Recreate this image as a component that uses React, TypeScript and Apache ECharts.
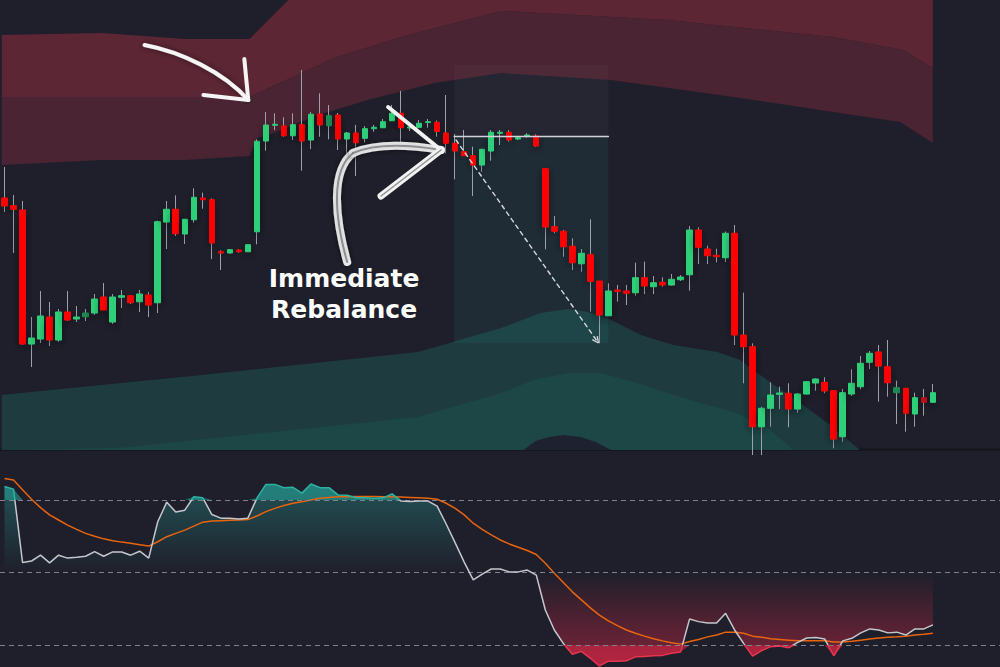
import { useEffect, useRef } from 'react';
import * as echarts from 'echarts';

// ---------- price data (one entry per bar) ----------
const opens = [
  252, 244.3, 240, 106, 111, 133, 110, 138, 131, 133.3,
  137, 153, 128, 152.7, 154.3, 148.3, 155, 147.3, 228, 240.7,
  216, 230.3, 252, 250.3, 198.3, 197, 200, 198.3, 218.3, 309,
  324.7, 324, 314.3, 325.3, 310, 336, 324.3, 335, 311, 317,
  311.7, 321.3, 322.3, 329.3, 336.7, 322, 322.7, 327.5, 327.7, 317,
  306.7, 298.3, 294.3, 285, 299, 316.7, 317.7, 311, 313.7, 314,
  281.3, 223.3, 218.7, 203.7, 186.3, 195.3, 169, 134.3, 160, 159,
  157.3, 172.3, 163.3, 167.7, 165, 170.3, 175.3, 220, 201, 194.7,
  192.3, 216.7, 115, 103.3, 23.3, 41.7, 55.7, 56.7, 41, 56,
  67, 67.7, 59.3, 13.3, 56, 63.3, 87.7, 98, 83.3, 57.3,
  61.7, 36, 52.3, 47.7,
];
const closes = [
  244, 240.7, 106, 112, 134, 110, 138, 130, 133, 137,
  151, 140, 153, 154.3, 147.3, 156, 145, 228.3, 240.7, 216.3,
  230.7, 252.7, 250.3, 207, 197, 200.3, 198.3, 205.3, 308.7, 325,
  325.7, 314.3, 325.3, 309, 335.7, 325, 334.3, 311, 317, 307.3,
  321.3, 322.7, 328.3, 336.7, 322.3, 323, 326.7, 328.3, 318.5, 306.7,
  299, 294.3, 285, 300.7, 317.7, 317.7, 310, 312.3, 315, 304,
  223, 218.7, 203.3, 187.3, 196.7, 168.7, 135, 159, 158.7, 156.7,
  172.3, 164, 167.3, 165, 170.7, 173, 220, 202.7, 194.3, 193.3,
  216.7, 115, 103.3, 23.3, 41.7, 55, 57, 41, 56, 68.3,
  71, 59, 11, 57.3, 66.7, 86.7, 96.7, 84, 67.3, 62.3,
  36.7, 52.3, 47.7, 57.3,
];
const lows = [
  238, 197, 105, 83, 107, 104, 108, 129, 128, 129,
  135, 140, 126, 142, 146, 138, 133, 137, 201, 214,
  206, 227.3, 241.3, 191, 180, 196.5, 197.3, 198, 205.7, 299.3,
  320, 313.3, 310, 279.3, 301, 313.3, 310.7, 300, 296.7, 274,
  307.7, 318.3, 322, 329, 307.3, 319, 322, 322.3, 313.3, 296.7,
  270.7, 294.3, 254, 278.3, 289.3, 305, 308.3, 310, 312.3, 303.3,
  200.7, 216.7, 193.3, 180, 178.3, 138.3, 106.7, 134.3, 148.3, 145,
  154.3, 156, 156, 163.3, 164.5, 169, 159.3, 186, 186, 187.7,
  188, 105, 66.7, -5, -5, 23.3, 41, 22.7, 37.3, 55.5,
  59.3, 56.7, 1.7, 8.3, 54, 60.7, 81, 48.3, 53.3, 26,
  18.3, 23.3, 34.3, 47.5,
];
const highs = [
  283, 255, 249, 133, 159, 148, 141, 159, 144, 141,
  156, 167, 156, 160, 155, 160, 158, 229.3, 249, 254.7,
  231, 261.7, 257.3, 251.7, 199.7, 201, 200.7, 205.5, 310.7, 338,
  336.7, 332.7, 336.7, 380, 338, 356.7, 345, 337, 318, 325,
  324, 325, 331, 345, 359, 326, 330, 331, 329.5, 355,
  316, 320, 303.3, 301, 320, 320, 320, 314, 316.7, 315.7,
  282, 234, 220, 211.7, 201, 230.7, 169, 166.7, 165, 165,
  187.3, 188.3, 174, 172.7, 176, 175, 224, 222.7, 204.3, 201.3,
  218.5, 225, 157.3, 106.7, 43.3, 67.7, 63.3, 66.7, 57, 69,
  71.7, 72.7, 60, 61, 80.7, 94, 99, 105, 110, 69.3,
  62, 57.3, 61, 66,
];
// bars drawn in a muted tone
const mutedCandles = [9, 36, 99, 102];

// ---------- oscillator ----------
const oscillator = [
  73.7, 73.0, 52.8, 53.2, 54.8, 52.7, 54.8, 54.0, 54.2, 54.5,
  55.8, 54.5, 55.7, 55.7, 54.8, 55.9, 54.0, 64.0, 69.4, 66.7,
  67.2, 70.9, 70.6, 66.0, 65.0, 65.0, 64.8, 65.0, 70.5, 74.3,
  74.3, 73.4, 73.5, 71.9, 74.4, 73.4, 73.4, 71.4, 71.3, 70.6,
  70.6, 70.5, 70.6, 71.7, 69.7, 69.6, 69.7, 69.7, 68.3, 63.4,
  58.2, 52.9, 48.0, 49.6, 51.0, 51.0, 50.2, 50.2, 50.7, 49.3,
  39.7, 34.2, 30.5, 27.5, 28.3, 26.4, 24.3, 25.6, 25.6, 25.7,
  26.8, 26.9, 27.1, 27.2, 27.8, 28.1, 37.2, 36.5, 36.1, 36.1,
  38.8, 34.2, 30.5, 27.0, 28.5, 29.6, 29.8, 29.3, 30.8, 32.0,
  32.1, 31.7, 27.1, 31.2, 31.9, 33.4, 34.5, 34.2, 33.4, 33.6,
  32.8, 34.5, 34.5, 35.6,
];
const signal = [
  75.9, 75.5, 72.8, 70.2, 67.9, 65.9, 64.5, 63.1, 61.9, 60.8,
  60.0, 59.3, 58.8, 58.4, 58.1, 57.7, 57.3, 58.5, 59.9, 60.8,
  61.7, 62.8, 63.9, 64.2, 64.3, 64.4, 64.5, 64.6, 65.6, 66.8,
  67.7, 68.5, 69.1, 69.5, 70.0, 70.5, 70.7, 70.9, 70.9, 71.0,
  71.0, 71.0, 70.9, 70.9, 70.8, 70.7, 70.6, 70.5, 70.2, 69.1,
  67.7, 65.9, 63.6, 61.9, 60.4, 59.0, 57.9, 57.0, 56.1, 55.0,
  52.6, 49.8, 47.3, 44.7, 42.5, 40.3, 38.3, 36.7, 35.4, 34.2,
  33.3, 32.5, 31.8, 31.2, 30.7, 30.3, 31.0, 31.6, 32.3, 32.8,
  33.6, 33.6, 33.3, 32.5, 32.2, 31.8, 31.6, 31.4, 31.2, 31.2,
  31.2, 31.2, 30.9, 30.9, 31.1, 31.4, 31.7, 32.0, 32.2, 32.3,
  32.5, 32.8, 33.0, 33.3,
];
const levels = [70, 50, 30];

// ---------- clouds: [bar position, price] ----------
const redTopEdge = [[-0.3, 415], [10.8, 417], [20.0, 411], [27.2, 411], [33.7, 470], [103, 470]];
const redMidEdge = [[-0.3, 353], [27.2, 353], [36.6, 392], [44.0, 413], [55.1, 439], [73.6, 430], [91.9, 413], [99.7, 400], [103, 382]];
const redBottomEdge = [[-0.3, 285], [10.8, 290], [20.0, 290], [27.2, 294], [28.0, 312], [29.3, 315], [34.8, 335], [40.3, 350], [47.7, 367], [55.1, 377], [67.3, 370], [80.9, 353], [99.4, 328], [103, 307]];
const tealTopEdge = [[-0.3, 55], [21.9, 75], [45.9, 98], [55.1, 122], [59.5, 137], [62.5, 141], [64.7, 138], [67.3, 130], [70.6, 115], [74.2, 105], [79.1, 98], [81.6, 90], [84.6, 70], [88.3, 47], [91.9, 23], [94.9, 0], [-0.3, 0]];
const tealInnerEdge = [[-0.3, 0], [12.7, 2], [45.9, 33], [55.1, 57], [58.7, 70], [62.5, 77], [66.1, 77], [69.8, 68], [73.6, 57], [77.2, 47], [80.9, 38], [84.6, 23], [87.5, 0]];
const tealHollow = [[57.6, 0], [58.9, 9], [60.4, 13], [62.0, 15], [63.9, 13], [65.6, 8], [67.3, 0]];

// ---------- annotations ----------
const zoneBars = [49.9, 67.0];
const zonePrices = [385, 313.5, 107]; // top, entry level, bottom
const projection = [[50.1, 310], [65.9, 107]];
const arrowOne = [[15.54, 405], [19.63, 398], [24.28, 378], [27.05, 350]];
const arrowOneHead = [[22.07, 355], [26.61, 391]];
const arrowTwoA = [[38.02, 188], [36.57, 235], [36.24, 280], [38.68, 297]];
const arrowTwoB = [[38.68, 297], [41.23, 307], [45.10, 305], [48.43, 300]];
const arrowTwoHead = [[42.56, 343], [41.78, 254]];
const labelLines = ['Immediate', 'Rebalance'];
const labelAnchors = [[37.68, 171.7], [37.68, 140.7]];

const BG = '#1f1f2b';
const UP = '#2ecf78';
const DOWN = '#ff0000';
const MUTED_UP = '#1f8a52';
const MUTED_DOWN = '#c0101c';
const WICK = '#9da1a9';

function buildOption(): any {
  const N = opens.length;
  const bandW = 939.1 / N;
  const categories = opens.map((_, i) => `Bar ${i + 1}`);
  const wickData = opens.map((o, i) => [o, closes[i], lows[i], highs[i]]);
  const bodyData = opens.map((o, i) => {
    const c = closes[i];
    const item: any = { value: [o, c, Math.min(o, c), Math.max(o, c)] };
    if (mutedCandles.includes(i)) {
      const col = c >= o ? MUTED_UP : MUTED_DOWN;
      item.itemStyle = { color: col, color0: col, borderColor: col, borderColor0: col };
    }
    return item;
  });
  const rev = (a: number[][]) => [...a].reverse();
  const mid = levels[1];

  return {
    animation: false,
    backgroundColor: BG,
    grid: [
      { left: -1.8, top: 0, width: 939.1, height: 450 },
      { left: -1.8, top: 451, width: 1001.8, height: 216 },
    ],
    xAxis: [
      { type: 'category', gridIndex: 0, data: categories, show: false, boundaryGap: true },
      { type: 'value', gridIndex: 0, min: -0.5, max: N - 0.5, show: false },
      { type: 'value', gridIndex: 1, min: -0.5, max: -0.5 + 1001.8 / bandW, show: false },
    ],
    yAxis: [
      { type: 'value', gridIndex: 0, min: 0, max: 450, show: false },
      { type: 'value', gridIndex: 1, min: -26, max: 33.5, show: false },
    ],
    visualMap: [
      {
        type: 'piecewise', show: false, seriesIndex: 6, dimension: 1,
        pieces: [
          { gt: levels[0] - mid, color: '#2bb3a2' },
          { gte: levels[2] - mid, lte: levels[0] - mid, color: '#c4c6cc' },
          { lt: levels[2] - mid, color: '#e8344e' },
        ],
      },
    ],
    graphic: [
      { type: 'rect', shape: { x: 0, y: 448.5, width: 1000, height: 2.5 }, style: { fill: '#15161e' }, silent: true },
    ],
    series: [
      {
        type: 'custom', xAxisIndex: 1, yAxisIndex: 0, data: [[0, 0]], clip: true, silent: true, z: 1,
        renderItem: (_p: any, api: any) => {
          const pts = (arr: number[][]) => arr.map((p) => api.coord(p));
          const rect = (y0: number, y1: number) => pts([[zoneBars[0], y0], [zoneBars[1], y0], [zoneBars[1], y1], [zoneBars[0], y1]]);
          return {
            type: 'group',
            children: [
              { type: 'polygon', shape: { points: pts([...redTopEdge, ...rev(redMidEdge)]) }, style: { fill: '#5d2634' } },
              { type: 'polygon', shape: { points: pts([...redMidEdge, ...rev(redBottomEdge)]) }, style: { fill: '#4a2432' } },
              { type: 'polygon', shape: { points: pts(tealTopEdge) }, style: { fill: '#1e3c40' } },
              { type: 'polygon', shape: { points: pts(tealInnerEdge) }, style: { fill: '#1d4747' } },
              { type: 'polygon', shape: { points: pts(tealHollow) }, style: { fill: '#1e2230' } },
              { type: 'polygon', shape: { points: rect(zonePrices[0], zonePrices[1]) }, style: { fill: 'rgba(150,150,170,0.06)' } },
              { type: 'polygon', shape: { points: rect(zonePrices[1], zonePrices[2]) }, style: { fill: 'rgba(38,166,154,0.1)' } },
            ],
          };
        },
      },
      {
        type: 'candlestick', xAxisIndex: 0, yAxisIndex: 0, data: wickData, barWidth: 0.8, clip: true, silent: true, z: 3,
        itemStyle: { color: WICK, color0: WICK, borderColor: WICK, borderColor0: WICK, borderWidth: 1 },
      },
      {
        type: 'candlestick', xAxisIndex: 0, yAxisIndex: 0, data: bodyData, barWidth: 6, clip: true, silent: true, z: 4,
        itemStyle: {
          color: UP, color0: DOWN, borderColor: UP, borderColor0: DOWN, borderWidth: 1,
          shadowBlur: 10, shadowColor: 'rgba(0,0,0,0.45)', shadowOffsetY: 3,
        },
      },
      {
        type: 'custom', xAxisIndex: 1, yAxisIndex: 0, data: [[0, 0]], clip: false, silent: true, z: 10,
        renderItem: (_p: any, api: any) => {
          const c = (p: number[]) => api.coord(p);
          const bez = (a: number[][], stroke: string, w: number) => {
            const [p0, p1, p2, p3] = a.map(c);
            return {
              type: 'bezierCurve',
              shape: { x1: p0[0], y1: p0[1], cpx1: p1[0], cpy1: p1[1], cpx2: p2[0], cpy2: p2[1], x2: p3[0], y2: p3[1] },
              style: { stroke, lineWidth: w, fill: 'none', lineCap: 'round', shadowBlur: 6, shadowColor: 'rgba(0,0,0,0.5)' },
            };
          };
          const seg = (a: number[], b: number[], stroke: string, w: number, dash?: number[]) => {
            const p = c(a), q = c(b);
            return {
              type: 'line', shape: { x1: p[0], y1: p[1], x2: q[0], y2: q[1] },
              style: { stroke, lineWidth: w, lineDash: dash, lineCap: 'round', fill: 'none' },
            };
          };
          const s = c(projection[0]), e = c(projection[1]);
          const len = Math.hypot(e[0] - s[0], e[1] - s[1]);
          const ux = (e[0] - s[0]) / len, uy = (e[1] - s[1]) / len;
          const wing = (ang: number) => {
            const cs = Math.cos(ang), sn = Math.sin(ang);
            const dx = ux * cs - uy * sn, dy = ux * sn + uy * cs;
            return { type: 'line', shape: { x1: e[0], y1: e[1], x2: e[0] - dx * 7, y2: e[1] - dy * 7 }, style: { stroke: '#d8d8dc', lineWidth: 1.3 } };
          };
          const tip1 = arrowOne[3], tip2 = arrowTwoB[3];
          const texts = labelLines.map((t, k) => {
            const p = c(labelAnchors[k]);
            return {
              type: 'text', x: p[0], y: p[1],
              style: {
                text: t, fill: '#ffffff', font: 'bold 25px "DejaVu Sans"', align: 'center', verticalAlign: 'middle',
                shadowBlur: 8, shadowColor: 'rgba(0,0,0,0.6)',
              },
            };
          });
          return {
            type: 'group',
            children: [
              seg([zoneBars[0], zonePrices[1]], [zoneBars[1], zonePrices[1]], '#d2d3d8', 1.5),
              seg(projection[0], projection[1], '#d8d8dc', 1.4, [4, 4]),
              wing(Math.PI / 7), wing(-Math.PI / 7),
              bez(arrowOne, '#f5f5f5', 4),
              seg(tip1, arrowOneHead[0], '#f5f5f5', 4),
              seg(tip1, arrowOneHead[1], '#f5f5f5', 4),
              bez(arrowTwoA, '#f2f2f2', 8),
              bez(arrowTwoB, '#f2f2f2', 8),
              bez(arrowTwoA, 'rgba(120,120,128,0.8)', 2),
              bez(arrowTwoB, 'rgba(120,120,128,0.8)', 2),
              seg(tip2, arrowTwoHead[0], '#f2f2f2', 4),
              seg(tip2, arrowTwoHead[1], '#f2f2f2', 7),
              seg(tip2, arrowTwoHead[1], 'rgba(120,120,128,0.8)', 1.5),
              ...texts,
            ],
          };
        },
      },
      // ----- lower pane: fills between the oscillator and its levels -----
      {
        type: 'custom', xAxisIndex: 2, yAxisIndex: 1, data: [[0, 0]], clip: true, silent: true, z: 1,
        renderItem: (_p: any, api: any) => {
          const last = oscillator.length - 1;
          const fill = (pick: (v: number) => number, base: number) => {
            const pts = oscillator.map((v, i) => api.coord([i, pick(v) - mid]));
            pts.push(api.coord([last, base - mid]), api.coord([0, base - mid]));
            return pts;
          };
          const tealGrad = new echarts.graphic.LinearGradient(0, 0, 0, 1, [
            { offset: 0, color: 'rgba(38,166,154,0.38)' },
            { offset: 1, color: 'rgba(38,166,154,0)' },
          ]);
          const redGrad = new echarts.graphic.LinearGradient(0, 0, 0, 1, [
            { offset: 0, color: 'rgba(220,40,70,0)' },
            { offset: 1, color: 'rgba(220,40,70,0.5)' },
          ]);
          return {
            type: 'group',
            children: [
              { type: 'polygon', shape: { points: fill((v) => Math.max(v, mid), mid) }, style: { fill: tealGrad } },
              { type: 'polygon', shape: { points: fill((v) => Math.min(v, mid), mid) }, style: { fill: redGrad } },
              { type: 'polygon', shape: { points: fill((v) => Math.max(v, levels[0]), levels[0]) }, style: { fill: 'rgba(38,166,154,0.55)' } },
              { type: 'polygon', shape: { points: fill((v) => Math.min(v, levels[2]), levels[2]) }, style: { fill: 'rgba(214,38,70,0.6)' } },
            ],
          };
        },
      },
      {
        type: 'line', xAxisIndex: 2, yAxisIndex: 1, silent: true, symbol: 'none', z: 4,
        data: signal.map((v, i) => [i, v - mid]),
        lineStyle: { color: '#e8650d', width: 1.5 },
        markLine: {
          silent: true, symbol: ['none', 'none'], label: { show: false },
          lineStyle: { color: '#7f828c', type: [5, 4], width: 1.2 },
          data: levels.map((l) => ({ yAxis: l - mid })),
        },
      },
      {
        type: 'line', xAxisIndex: 2, yAxisIndex: 1, silent: true, symbol: 'none', z: 5,
        data: oscillator.map((v, i) => [i, v - mid]),
        lineStyle: { width: 1.5 },
      },
    ],
  };
}

export default function App() {
  const ref = useRef<HTMLDivElement>(null);
  useEffect(() => {
    if (!ref.current) return;
    const chart = echarts.init(ref.current, null, { renderer: 'svg' });
    chart.setOption(buildOption());
    return () => chart.dispose();
  }, []);
  return (
    <div
      ref={ref}
      style={{ position: 'fixed', left: 0, top: 0, width: 1000, height: 667, background: BG }}
    />
  );
}
